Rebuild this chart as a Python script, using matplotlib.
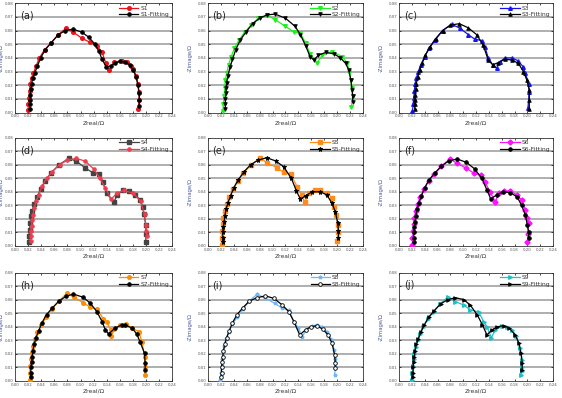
import matplotlib
matplotlib.use('Agg')
import matplotlib.pyplot as plt
import numpy as np

# %% data (Zreal, -Zimage) in Ohm
s1_x = [0.020, 0.020, 0.021, 0.022, 0.023, 0.025, 0.028, 0.032, 0.037, 0.045, 0.055, 0.066, 0.078, 0.089, 0.102,
        0.114, 0.125, 0.133, 0.139, 0.144, 0.151, 0.163, 0.171, 0.177, 0.181, 0.185, 0.188, 0.189, 0.190, 0.188]
s1_y = [0.002, 0.006, 0.011, 0.016, 0.021, 0.025, 0.029, 0.034, 0.040, 0.046, 0.051, 0.057, 0.0617, 0.0588, 0.0544,
        0.0515, 0.049, 0.044, 0.036, 0.031, 0.037, 0.0378, 0.037, 0.034, 0.0317, 0.027, 0.021, 0.015, 0.009, 0.003]
f1_x = [0.0225, 0.0225, 0.023, 0.023, 0.024, 0.025, 0.027, 0.030, 0.034, 0.039, 0.046, 0.055, 0.066, 0.077, 0.089, 0.102,
        0.113, 0.122, 0.128, 0.133, 0.139, 0.146, 0.153, 0.160, 0.168, 0.175, 0.181, 0.185, 0.188, 0.190, 0.190, 0.190]
f1_y = [0.003, 0.006, 0.009, 0.013, 0.017, 0.021, 0.025, 0.029, 0.034, 0.040, 0.046, 0.051, 0.057, 0.060, 0.061, 0.0588,
        0.055, 0.050, 0.045, 0.039, 0.0337, 0.034, 0.036, 0.0375, 0.037, 0.035, 0.031, 0.026, 0.020, 0.014, 0.009, 0.005]

s2_x = [0.023, 0.024, 0.025, 0.026, 0.027, 0.029, 0.032, 0.036, 0.041, 0.048, 0.057, 0.067, 0.078, 0.091, 0.104,
        0.120, 0.133, 0.143, 0.151, 0.158, 0.169, 0.177, 0.192, 0.208, 0.215, 0.219, 0.221, 0.223, 0.224, 0.222]
s2_y = [0.001, 0.006, 0.012, 0.018, 0.024, 0.029, 0.035, 0.041, 0.047, 0.053, 0.059, 0.064, 0.069, 0.0715, 0.068,
        0.063, 0.059, 0.058, 0.051, 0.043, 0.0366, 0.042, 0.0446, 0.041, 0.0366, 0.030, 0.024, 0.018, 0.012, 0.0044]
f2_x = [0.027, 0.027, 0.027, 0.028, 0.028, 0.029, 0.031, 0.034, 0.038, 0.043, 0.050, 0.059, 0.069, 0.080, 0.092, 0.104,
        0.120, 0.135, 0.143, 0.151, 0.158, 0.164, 0.171, 0.182, 0.195, 0.205, 0.213, 0.218, 0.221, 0.223, 0.224, 0.224]
f2_y = [0.003, 0.006, 0.010, 0.014, 0.018, 0.022, 0.027, 0.033, 0.039, 0.046, 0.053, 0.059, 0.065, 0.069, 0.0715, 0.072,
        0.069, 0.063, 0.057, 0.049, 0.041, 0.0385, 0.042, 0.044, 0.043, 0.040, 0.036, 0.031, 0.024, 0.0166, 0.012, 0.008]

s3_x = [0.021, 0.022, 0.023, 0.024, 0.025, 0.027, 0.030, 0.034, 0.040, 0.047, 0.056, 0.068, 0.082, 0.095, 0.108,
        0.118, 0.129, 0.134, 0.139, 0.146, 0.152, 0.157, 0.165, 0.176, 0.186, 0.193, 0.197, 0.202, 0.203, 0.201]
s3_y = [0.001, 0.006, 0.011, 0.016, 0.021, 0.025, 0.030, 0.035, 0.041, 0.047, 0.053, 0.060, 0.0646, 0.0617, 0.057,
        0.0537, 0.0527, 0.048, 0.040, 0.035, 0.0324, 0.037, 0.040, 0.040, 0.0378, 0.0337, 0.0288, 0.021, 0.015, 0.0037]
f3_x = [0.0245, 0.0245, 0.025, 0.025, 0.026, 0.027, 0.029, 0.032, 0.036, 0.041, 0.048, 0.057, 0.068, 0.080, 0.094,
        0.108, 0.121, 0.131, 0.139, 0.146, 0.155, 0.165, 0.176, 0.186, 0.194, 0.199, 0.203, 0.203, 0.203]
f3_y = [0.003, 0.006, 0.009, 0.013, 0.017, 0.021, 0.026, 0.031, 0.036, 0.042, 0.048, 0.054, 0.060, 0.064, 0.065,
        0.062, 0.057, 0.0495, 0.0385, 0.035, 0.0366, 0.039, 0.0385, 0.036, 0.030, 0.024, 0.0166, 0.0093, 0.003]

s4_x = [0.021, 0.021, 0.022, 0.023, 0.024, 0.026, 0.029, 0.033, 0.039, 0.046, 0.055, 0.067, 0.082, 0.093, 0.107,
        0.119, 0.129, 0.134, 0.140, 0.151, 0.156, 0.165, 0.174, 0.184, 0.191, 0.195, 0.197, 0.200, 0.200, 0.200]
s4_y = [0.003, 0.007, 0.012, 0.017, 0.022, 0.026, 0.031, 0.036, 0.042, 0.048, 0.054, 0.060, 0.0647, 0.0628, 0.0578,
        0.054, 0.053, 0.0475, 0.039, 0.0322, 0.0377, 0.041, 0.0406, 0.0377, 0.034, 0.029, 0.0234, 0.0155, 0.009, 0.003]
f4_x = [0.024, 0.024, 0.024, 0.025, 0.026, 0.027, 0.029, 0.032, 0.036, 0.041, 0.048, 0.057, 0.068, 0.080, 0.093,
        0.107, 0.120, 0.130, 0.138, 0.147, 0.156, 0.166, 0.181, 0.192, 0.198, 0.200, 0.201, 0.202]
f4_y = [0.004, 0.007, 0.011, 0.015, 0.019, 0.023, 0.028, 0.033, 0.038, 0.044, 0.050, 0.055, 0.060, 0.0635, 0.0647,
        0.0628, 0.057, 0.050, 0.0426, 0.0347, 0.039, 0.041, 0.039, 0.033, 0.0234, 0.0155, 0.011, 0.007]

s5_x = [0.021, 0.021, 0.022, 0.023, 0.024, 0.026, 0.029, 0.033, 0.039, 0.046, 0.055, 0.067, 0.081, 0.091, 0.107,
        0.117, 0.128, 0.138, 0.145, 0.150, 0.156, 0.166, 0.174, 0.184, 0.192, 0.195, 0.198, 0.201, 0.201, 0.200]
s5_y = [0.001, 0.006, 0.011, 0.016, 0.021, 0.026, 0.031, 0.036, 0.042, 0.048, 0.054, 0.060, 0.0652, 0.0615, 0.0578,
        0.0544, 0.053, 0.0438, 0.0377, 0.0322, 0.039, 0.0414, 0.0414, 0.039, 0.0357, 0.029, 0.0229, 0.0155, 0.010, 0.0037]
f5_x = [0.0227, 0.023, 0.023, 0.024, 0.025, 0.026, 0.028, 0.031, 0.035, 0.040, 0.047, 0.056, 0.066, 0.078, 0.091,
        0.105, 0.117, 0.129, 0.137, 0.143, 0.151, 0.161, 0.174, 0.184, 0.192, 0.197, 0.201, 0.202, 0.202]
f5_y = [0.003, 0.006, 0.010, 0.014, 0.018, 0.022, 0.027, 0.032, 0.037, 0.043, 0.049, 0.055, 0.060, 0.0635, 0.0652,
        0.0628, 0.0586, 0.050, 0.0406, 0.0347, 0.037, 0.040, 0.040, 0.0377, 0.0315, 0.0254, 0.0167, 0.011, 0.006]

s6_x = [0.021, 0.021, 0.022, 0.023, 0.024, 0.026, 0.029, 0.033, 0.039, 0.046, 0.055, 0.066, 0.079, 0.091, 0.105,
        0.117, 0.127, 0.134, 0.142, 0.150, 0.156, 0.164, 0.173, 0.184, 0.191, 0.197, 0.200, 0.202, 0.201, 0.200]
s6_y = [0.001, 0.006, 0.011, 0.016, 0.021, 0.026, 0.031, 0.036, 0.042, 0.048, 0.053, 0.059, 0.0642, 0.061, 0.0574,
        0.0537, 0.0524, 0.047, 0.040, 0.0327, 0.039, 0.0406, 0.0406, 0.0377, 0.034, 0.0266, 0.021, 0.0167, 0.009, 0.003]
f6_x = [0.023, 0.023, 0.023, 0.024, 0.025, 0.026, 0.028, 0.031, 0.035, 0.040, 0.047, 0.056, 0.066, 0.078, 0.091,
        0.105, 0.118, 0.129, 0.137, 0.143, 0.152, 0.162, 0.173, 0.184, 0.191, 0.197, 0.200, 0.202, 0.202]
f6_y = [0.003, 0.006, 0.010, 0.014, 0.018, 0.022, 0.027, 0.032, 0.037, 0.043, 0.049, 0.054, 0.059, 0.063, 0.0642,
        0.0618, 0.0569, 0.050, 0.0414, 0.0347, 0.0377, 0.040, 0.0394, 0.0364, 0.030, 0.0229, 0.0155, 0.010, 0.006]

s7_x = [0.022, 0.022, 0.023, 0.024, 0.025, 0.027, 0.030, 0.034, 0.040, 0.047, 0.056, 0.067, 0.079, 0.090, 0.104,
        0.115, 0.126, 0.135, 0.140, 0.146, 0.147, 0.152, 0.160, 0.170, 0.179, 0.189, 0.194, 0.198, 0.199, 0.198]
s7_y = [0.001, 0.006, 0.011, 0.016, 0.021, 0.026, 0.031, 0.036, 0.041, 0.047, 0.053, 0.059, 0.0647, 0.0618, 0.0578,
        0.0544, 0.053, 0.0455, 0.0438, 0.0377, 0.0332, 0.038, 0.0414, 0.0418, 0.039, 0.0364, 0.029, 0.018, 0.010, 0.0044]
f7_x = [0.024, 0.024, 0.024, 0.025, 0.026, 0.027, 0.029, 0.032, 0.036, 0.041, 0.048, 0.057, 0.067, 0.078, 0.089,
        0.104, 0.115, 0.125, 0.133, 0.138, 0.143, 0.153, 0.163, 0.168, 0.179, 0.186, 0.191, 0.198, 0.199, 0.199]
f7_y = [0.003, 0.006, 0.010, 0.014, 0.018, 0.022, 0.027, 0.032, 0.037, 0.043, 0.049, 0.054, 0.059, 0.0625, 0.0642,
        0.0618, 0.0574, 0.0512, 0.0438, 0.0377, 0.0347, 0.039, 0.0414, 0.0414, 0.039, 0.0347, 0.029, 0.0204, 0.013, 0.008]

s8_x = [0.019, 0.020, 0.021, 0.022, 0.023, 0.025, 0.028, 0.032, 0.038, 0.045, 0.054, 0.064, 0.076, 0.089, 0.103,
        0.115, 0.125, 0.133, 0.140, 0.146, 0.152, 0.161, 0.169, 0.177, 0.184, 0.192, 0.195, 0.196, 0.197, 0.196]
s8_y = [0.0007, 0.006, 0.011, 0.016, 0.021, 0.026, 0.031, 0.036, 0.042, 0.047, 0.053, 0.059, 0.064, 0.061, 0.0574,
        0.0537, 0.0524, 0.0438, 0.039, 0.0327, 0.0377, 0.0406, 0.0414, 0.040, 0.0364, 0.0303, 0.023, 0.016, 0.010, 0.0044]
f8_x = [0.0207, 0.021, 0.021, 0.022, 0.023, 0.024, 0.026, 0.029, 0.033, 0.038, 0.045, 0.054, 0.064, 0.076, 0.089,
        0.102, 0.115, 0.125, 0.133, 0.142, 0.151, 0.159, 0.169, 0.178, 0.186, 0.192, 0.196, 0.197, 0.197]
f8_y = [0.003, 0.006, 0.010, 0.014, 0.018, 0.022, 0.027, 0.032, 0.037, 0.043, 0.049, 0.054, 0.059, 0.0615, 0.0628,
        0.061, 0.0561, 0.0512, 0.0438, 0.034, 0.0377, 0.040, 0.0408, 0.038, 0.034, 0.0278, 0.0192, 0.0135, 0.0094]

s9_x = [0.020, 0.021, 0.022, 0.023, 0.024, 0.026, 0.029, 0.033, 0.038, 0.045, 0.054, 0.064, 0.076, 0.088, 0.101,
        0.111, 0.124, 0.132, 0.137, 0.144, 0.150, 0.161, 0.168, 0.176, 0.183, 0.189, 0.192, 0.192, 0.191, 0.190]
s9_y = [0.0007, 0.006, 0.011, 0.016, 0.020, 0.025, 0.030, 0.035, 0.040, 0.046, 0.051, 0.057, 0.062, 0.0586, 0.056,
        0.0524, 0.051, 0.0438, 0.040, 0.032, 0.0377, 0.0406, 0.040, 0.0377, 0.0332, 0.0241, 0.0155, 0.010, 0.007, 0.0044]
f9_x = [0.022, 0.022, 0.022, 0.023, 0.024, 0.025, 0.027, 0.030, 0.034, 0.039, 0.046, 0.055, 0.065, 0.076, 0.088,
        0.101, 0.111, 0.122, 0.130, 0.137, 0.145, 0.153, 0.163, 0.172, 0.181, 0.187, 0.190, 0.192, 0.192]
f9_y = [0.003, 0.006, 0.010, 0.014, 0.018, 0.022, 0.027, 0.031, 0.036, 0.041, 0.047, 0.052, 0.057, 0.060, 0.0615,
        0.060, 0.056, 0.0487, 0.0414, 0.034, 0.0377, 0.040, 0.0408, 0.0389, 0.034, 0.0278, 0.0204, 0.0135, 0.0080]

panel_labels = ['(a)', '(b)', '(c)', '(d)', '(e)', '(f)', '(h)', '(i)', '(j)']
sample_names = ['S1', 'S2', 'S3', 'S4', 'S5', 'S6', 'S7', 'S8', 'S9']
x_ticks = [0.00, 0.02, 0.04, 0.06, 0.08, 0.10, 0.12, 0.14, 0.16, 0.18, 0.20, 0.22, 0.24]
y_ticks = [0.00, 0.01, 0.02, 0.03, 0.04, 0.05, 0.06, 0.07, 0.08]

meas = [(s1_x, s1_y), (s2_x, s2_y), (s3_x, s3_y), (s4_x, s4_y), (s5_x, s5_y),
        (s6_x, s6_y), (s7_x, s7_y), (s8_x, s8_y), (s9_x, s9_y)]
fits = [(f1_x, f1_y), (f2_x, f2_y), (f3_x, f3_y), (f4_x, f4_y), (f5_x, f5_y),
        (f6_x, f6_y), (f7_x, f7_y), (f8_x, f8_y), (f9_x, f9_y)]

# style per panel: (data colour, data marker, fit colour, fit marker, fit face)
styles = [
    ('#e8141c', 'o', 'black', 'o', 'black'),
    ('#22ee22', 'v', 'black', 'v', 'black'),
    ('#1515f0', '^', 'black', '^', 'black'),
    ('#444444', 's', '#f03c4c', 'o', '#f03c4c'),
    ('#ff8c1a', 's', 'black', '*', 'black'),
    ('#ff10ff', 'D', 'black', 'o', 'black'),
    ('#ff8c00', 'o', 'black', 'o', 'black'),
    ('#6cb8f8', '*', 'black', 'o', 'white'),
    ('#20c0c8', '>', 'black', '>', 'black'),
]

# %% layout (figure fractions)
fig = plt.figure(figsize=(5.62, 3.98), dpi=100)
col_left = [0.027, 0.370, 0.710]
col_w = [0.279, 0.276, 0.274]
row_bottom = [0.717, 0.382, 0.043]
row_h = [0.275, 0.272, 0.272]
ylab_x = [-0.072, -0.10, -0.10]

for i in range(9):
    r, c = divmod(i, 3)
    ax = fig.add_axes([col_left[c], row_bottom[r], col_w[c], row_h[r]])
    dcol, dmark, fcol, fmark, fface = styles[i]

    for yt in y_ticks[1:-1]:
        ax.axhline(yt, color='#a8a8a8', lw=1.3, zorder=0)

    ax.plot(*meas[i], '-', color=dcol, marker=dmark, ms=2.6, lw=0.9,
            mec=dcol, mfc=dcol, label=sample_names[i], zorder=3)
    fms = 3.6 if fmark == '*' else 2.6
    ax.plot(*fits[i], '-', color=fcol, marker=fmark, ms=fms, lw=0.9,
            mec=fcol, mfc=fface, mew=0.6, label=sample_names[i] + '-Fitting', zorder=4)

    ax.set_xlim(0, 0.24)
    ax.set_ylim(0, 0.08)
    ax.set_xticks(x_ticks)
    ax.set_yticks(y_ticks)
    ax.set_xticklabels(['%.2f' % v for v in x_ticks])
    ax.set_yticklabels(['%.2f' % v for v in y_ticks])
    ax.tick_params(direction='in', length=1.5, width=0.5, labelsize=2.8,
                   labelcolor='#555555', pad=1.2, top=True, right=True)
    for sp in ax.spines.values():
        sp.set_linewidth(0.6)
        sp.set_color('#333333')

    ax.set_xlabel('Zreal/Ω', fontsize=4.3, color='#333333', labelpad=1.5)
    ax.set_ylabel('-Zimage/Ω', fontsize=3.8, color='#4a5a9a')
    ax.yaxis.set_label_coords(ylab_x[c], 0.5)
    ax.text(0.03, 0.93, panel_labels[i], transform=ax.transAxes, fontsize=7,
            ha='left', va='top', color='#222222')
    ax.legend(loc='upper right', fontsize=4.3, frameon=False, handlelength=3.2,
              borderaxespad=0.2, labelspacing=0.25, handletextpad=0.4,
              borderpad=0.2, labelcolor='#333333')

fig.savefig('out.png', dpi=100)
